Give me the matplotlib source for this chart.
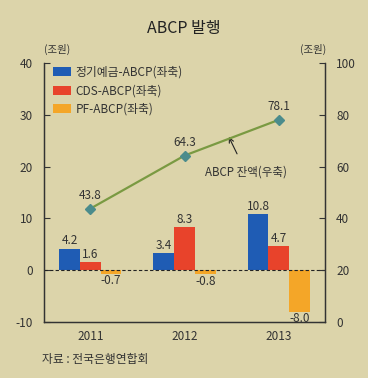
import numpy as np
import matplotlib.pyplot as plt

plt.rcParams['font.family'] = ['Noto Sans CJK KR', 'DejaVu Sans']
plt.rcParams['axes.unicode_minus'] = False

years = ['2011', '2012', '2013']
deposit = [4.2, 3.4, 10.8]
cds = [1.6, 8.3, 4.7]
pf = [-0.7, -0.8, -8.0]
balance = [43.8, 64.3, 78.1]

bg = '#dcd4aa'
txt = '#333333'
c_blue = '#1f5cb4'
c_red = '#e8432b'
c_orange = '#f4a628'
c_line = '#7a9a42'
c_marker = '#4b8c8c'

fig = plt.figure(figsize=(3.68, 3.78), dpi=100, facecolor=bg)
ax = fig.add_axes([0.12, 0.148, 0.763, 0.685])
ax.set_facecolor(bg)
ax2 = ax.twinx()

x = np.arange(len(years))
w = 0.22
ax.bar(x - w, deposit, w, color=c_blue, label='정기예금-ABCP(좌축)', zorder=3)
ax.bar(x, cds, w, color=c_red, label='CDS-ABCP(좌축)', zorder=3)
ax.bar(x + w, pf, w, color=c_orange, label='PF-ABCP(좌축)', zorder=3)

for i in range(len(years)):
    for off, v in zip((-w, 0, w), (deposit[i], cds[i], pf[i])):
        if v >= 0:
            ax.text(x[i] + off, v + 0.2, f'{v:.1f}', ha='center', va='bottom', fontsize=8.5, color=txt)
        else:
            ax.text(x[i] + off, v - 0.05, f'{v:.1f}', ha='center', va='top', fontsize=8.5, color=txt)

ax.axhline(0, color='#222222', lw=0.8, ls=(0, (3, 2)), zorder=4)

ax.set_xlim(-0.49, 2.49)
ax.set_ylim(-10, 40)
ax.set_yticks([-10, 0, 10, 20, 30, 40])
ax.set_xticks(x)
ax.set_xticklabels(years)

ax2.plot(x, balance, color=c_line, lw=1.6, zorder=5)
ax2.plot(x, balance, ls='none', marker='D', ms=5, color=c_marker, zorder=6)
for i, v in enumerate(balance):
    ax2.text(x[i], v + 2.5, f'{v:.1f}', ha='center', va='bottom', fontsize=8.5, color=txt)
ax2.set_ylim(0, 100)
ax2.set_yticks([0, 20, 40, 60, 80, 100])

ax2.annotate('ABCP 잔액(우축)', xy=(1.47, 71.5), xytext=(1.65, 58.0),
             fontsize=8.3, color=txt, ha='center', va='center',
             arrowprops=dict(arrowstyle='->', color='#222222', lw=0.8, shrinkA=7, shrinkB=0))

for a in (ax, ax2):
    a.spines['top'].set_visible(False)
    for s in ('left', 'right', 'bottom'):
        a.spines[s].set_color('#333333')
        a.spines[s].set_linewidth(0.9)
    a.tick_params(colors=txt, labelsize=8.5, direction='in', length=4, width=0.8)
ax.tick_params(axis='x', length=0, pad=6)
ax.tick_params(axis='y', pad=8)
ax2.tick_params(axis='y', pad=8)

ax.legend(loc='upper left', bbox_to_anchor=(-0.005, 1.03), frameon=False, fontsize=8.5,
          labelcolor=txt, handlelength=1.5, handleheight=0.8, handletextpad=0.4,
          labelspacing=0.45)

fig.text(0.5, 0.925, 'ABCP 발행', ha='center', va='center', fontsize=11.5, color='#222222')
fig.text(0.155, 0.868, '(조원)', ha='center', va='center', fontsize=7.5, color=txt)
fig.text(0.85, 0.868, '(조원)', ha='center', va='center', fontsize=7.5, color=txt)
fig.text(0.115, 0.048, '자료 : 전국은행연합회', ha='left', va='center', fontsize=8.5, color=txt)

fig.savefig('out.png', dpi=100, facecolor=bg)
